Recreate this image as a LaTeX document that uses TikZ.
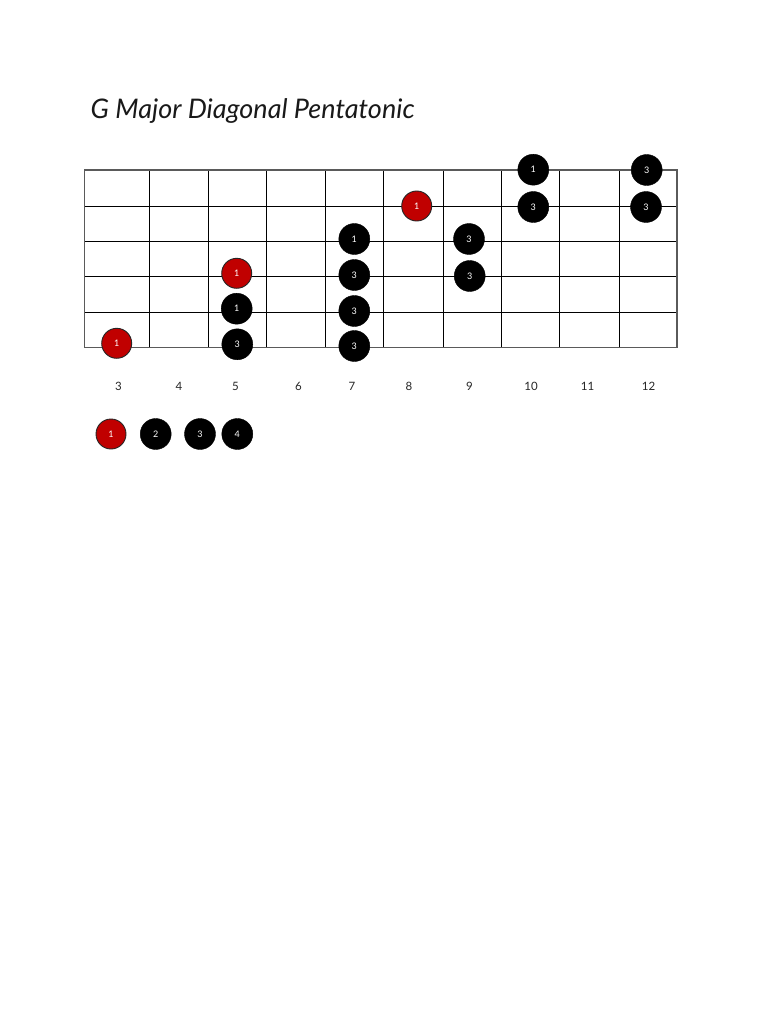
\documentclass[tikz,border=0pt]{standalone}
\usepackage{fontspec}
\setmainfont{Lato}
\definecolor{rootred}{RGB}{192,0,0}
\definecolor{gridgray}{RGB}{90,90,90}
\begin{document}
\begin{tikzpicture}[x=1pt,y=-1pt,
  dotblack/.style={circle,fill=black,draw=black,line width=0.4pt,minimum size=31pt,inner sep=0pt,text=white,font=\fontsize{9}{10}\selectfont},
  dotred/.style={circle,fill=rootred,draw=black!85,line width=0.9pt,minimum size=30pt,inner sep=0pt,text=white,font=\fontsize{9}{10}\selectfont},
  fretlabel/.style={font=\fontsize{11.5}{12}\selectfont,text=black!85,inner sep=0pt},
  gridline/.style={draw=black,line width=0.9pt},
  border/.style={draw=gridgray,line width=1.3pt}]
\useasboundingbox[fill=white] (0,0) rectangle (768,1024);
% title
\node[anchor=base west,inner sep=0pt,font=\fontsize{27}{31}\selectfont\itshape,text=black!90] (title) at (90.5,118.5) {G Major Diagonal Pentatonic};
% grid
\foreach \x in {149,208.3,266.3,325.7,383.5,443.3,501.3,559.7,619}
  \draw[gridline] (\x,170) -- (\x,347.7);
\foreach \y in {206.5,241,276.5,312}
  \draw[gridline] (84.3,\y) -- (677,\y);
\draw[border] (84.3,170) rectangle (677,347.7);
% dots
\node[dotred] (r1) at (116.7,343.3) {1};
\node[dotred] (r2) at (236.7,273.3) {1};
\node[dotblack] (b1) at (236.7,308.7) {1};
\node[dotblack] (b2) at (237.3,344.3) {3};
\node[dotblack] (b3) at (354.3,239) {1};
\node[dotblack] (b4) at (354.3,275) {3};
\node[dotblack] (b5) at (354.3,311) {3};
\node[dotblack] (b6) at (354.3,346) {3};
\node[dotred] (r3) at (416.7,206) {1};
\node[dotblack] (b7) at (469,239) {3};
\node[dotblack] (b8) at (469.7,276) {3};
\node[dotblack] (b9) at (533.3,169.7) {1};
\node[dotblack] (b10) at (533.3,207) {3};
\node[dotblack] (b11) at (646.7,170) {3};
\node[dotblack] (b12) at (646,207) {3};
% fret numbers
\node[fretlabel] (f3) at (118.5,386) {3};
\node[fretlabel] (f4) at (179,386) {4};
\node[fretlabel] (f5) at (235.5,386) {5};
\node[fretlabel] (f6) at (298.5,386) {6};
\node[fretlabel] (f7) at (352,386) {7};
\node[fretlabel] (f8) at (409,386) {8};
\node[fretlabel] (f9) at (469.5,386) {9};
\node[fretlabel] (f10) at (531,386) {10};
\node[fretlabel] (f11) at (587.5,386) {11};
\node[fretlabel] (f12) at (648.5,386) {12};
% legend
\node[dotred] (l1) at (111,434) {1};
\node[dotblack] (l2) at (155.7,434) {2};
\node[dotblack] (l3) at (200,434) {3};
\node[dotblack] (l4) at (237.3,434) {4};
\end{tikzpicture}
\end{document}
